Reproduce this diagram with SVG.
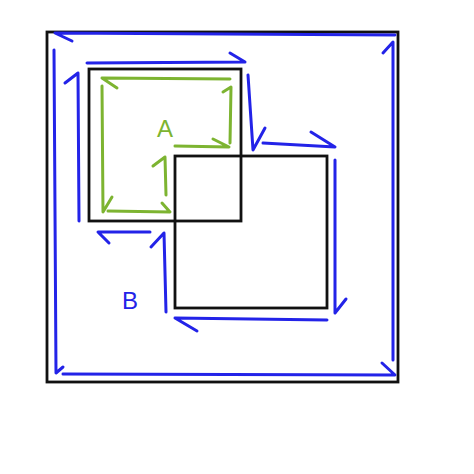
<svg xmlns="http://www.w3.org/2000/svg" width="474" height="474" viewBox="0 0 474 474">
<style>
.box{fill:none;stroke:#111;stroke-width:2.8}
.b{fill:none;stroke:#2323e8;stroke-width:3;stroke-linecap:round;stroke-linejoin:round}
.g{fill:none;stroke:#7db431;stroke-width:3;stroke-linecap:round;stroke-linejoin:round}
.lbl{font-family:"Liberation Sans",Arial,sans-serif;font-size:24px}
</style>
<rect width="474" height="474" fill="#fff"/>
<g id="outer"><rect class="box" x="47" y="32" width="351" height="350" stroke-width="3.2"/></g>
<g id="squareA"><rect class="box" x="89" y="69" width="152" height="152"/><text class="lbl" x="157" y="137" fill="#7db431">A</text></g>
<g id="squareB"><rect class="box" x="175" y="156" width="152" height="152"/><text class="lbl" x="122" y="309" fill="#2323e8">B</text></g>
<g id="connectors">
<path class="b" d="M395,35 L55,33 L72,41"/>
<path class="b" d="M54,50 L56,373 L63,367"/>
<path class="b" d="M63,374 L395,375 L382,363"/>
<path class="b" d="M393,360 L393,42 L383,53"/>
<path class="b" d="M87,63 L245,62 L230,53"/>
<path class="b" d="M248,75 L253,150 L265,128"/>
<path class="b" d="M263,143 L335,147 L311,132"/>
<path class="b" d="M335,160 L335,313 L346,299"/>
<path class="b" d="M327,320 L175,318 L197,331"/>
<path class="b" d="M166,312 L164,233 L151,247"/>
<path class="b" d="M150,232 L98,232 L109,243"/>
<path class="b" d="M79,221 L78,73 L65,83"/>
<path class="g" d="M230,79 L102,78 L117,88"/>
<path class="g" d="M102,86 L103,212 L112,197"/>
<path class="g" d="M108,211 L170,212 L162,203"/>
<path class="g" d="M166,195 L165,157 L153,166"/>
<path class="g" d="M175,146 L229,147 L213,139"/>
<path class="g" d="M230,143 L231,87 L223,92"/>
</g>
</svg>
